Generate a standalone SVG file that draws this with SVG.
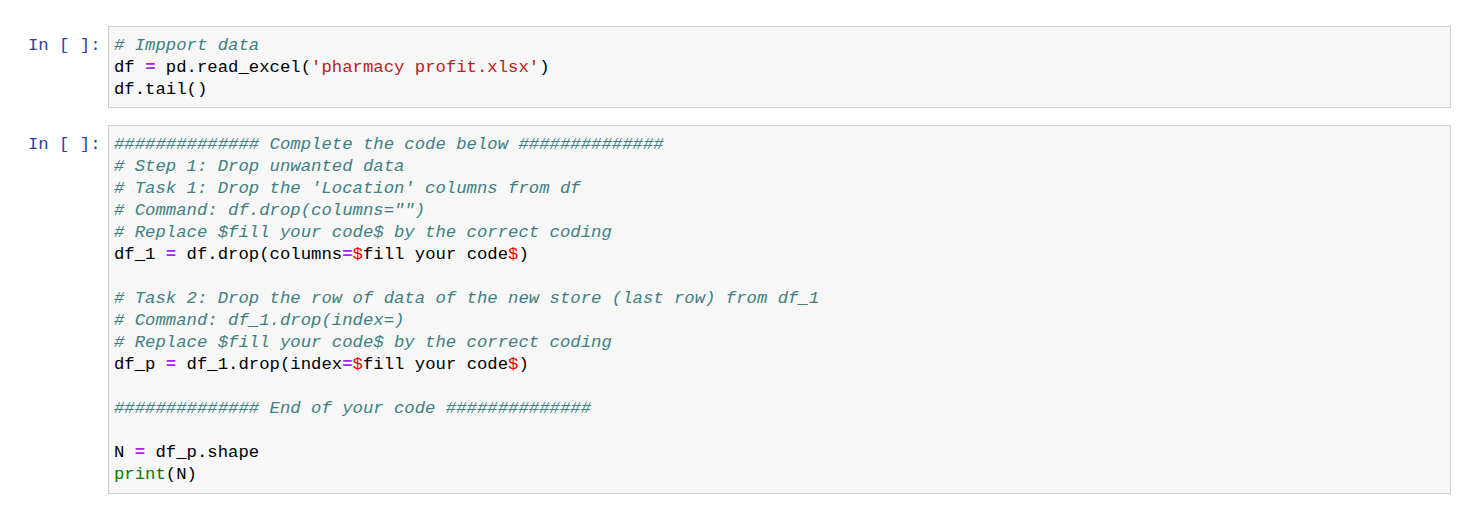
<svg xmlns="http://www.w3.org/2000/svg" width="1466" height="518" viewBox="0 0 1466 518">
<style>
.box{fill:#f7f7f7;stroke:#cfcfcf;stroke-width:1}
.p{font-family:"Liberation Mono","DejaVu Sans Mono",monospace;font-size:17.3px;fill:#000;white-space:pre}
.c{fill:#408080;font-style:italic}
.o{fill:#aa22ff;font-weight:bold}
.s{fill:#ba2121}
.d{fill:#e00}
.b{fill:#008000}
.in{font-family:"Liberation Mono","DejaVu Sans Mono",monospace;font-size:17.3px;fill:#303f9f;white-space:pre}
</style>
<rect width="1466" height="518" fill="#fff"/>
<g id="cell1">
<rect class="box" x="108.5" y="26.5" width="1342" height="81"/>
<text class="in" x="28" y="50">In [ ]:</text>
<text class="p" x="114" y="50"><tspan class="c"># Impport data</tspan></text>
<text class="p" x="114" y="72">df <tspan class="o">=</tspan> pd.read_excel(<tspan class="s">'pharmacy profit.xlsx'</tspan>)</text>
<text class="p" x="114" y="94">df.tail()</text>
</g>
<g id="cell2">
<rect class="box" x="108.5" y="125.5" width="1342" height="368"/>
<text class="in" x="28" y="149">In [ ]:</text>
<text class="p c" x="114" y="149">############## Complete the code below ##############</text>
<text class="p c" x="114" y="171"># Step 1: Drop unwanted data</text>
<text class="p c" x="114" y="193"># Task 1: Drop the 'Location' columns from df</text>
<text class="p c" x="114" y="215"># Command: df.drop(columns="")</text>
<text class="p c" x="114" y="237"># Replace $fill your code$ by the correct coding</text>
<text class="p" x="114" y="259">df_1 <tspan class="o">=</tspan> df.drop(columns<tspan class="o">=</tspan><tspan class="d">$</tspan>fill your code<tspan class="d">$</tspan>)</text>
<text class="p c" x="114" y="303"># Task 2: Drop the row of data of the new store (last row) from df_1</text>
<text class="p c" x="114" y="325"># Command: df_1.drop(index=)</text>
<text class="p c" x="114" y="347"># Replace $fill your code$ by the correct coding</text>
<text class="p" x="114" y="369">df_p <tspan class="o">=</tspan> df_1.drop(index<tspan class="o">=</tspan><tspan class="d">$</tspan>fill your code<tspan class="d">$</tspan>)</text>
<text class="p c" x="114" y="413">############## End of your code ##############</text>
<text class="p" x="114" y="457">N <tspan class="o">=</tspan> df_p.shape</text>
<text class="p" x="114" y="479"><tspan class="b">print</tspan>(N)</text>
</g>
</svg>
